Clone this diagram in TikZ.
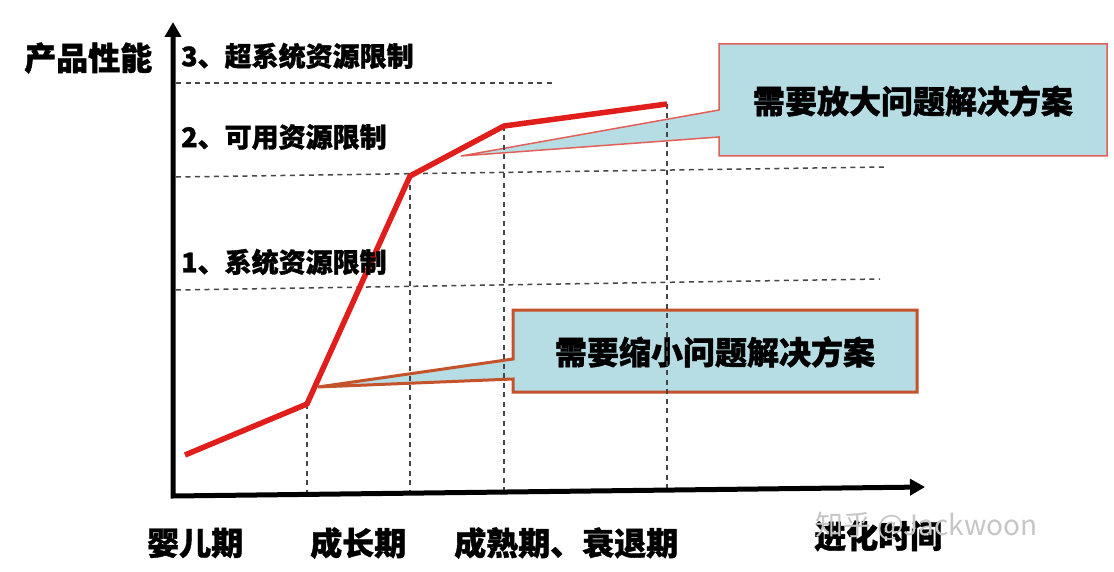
\documentclass[tikz,border=0pt]{standalone}
\usepackage{fontspec}
\newfontfamily\cjk{Noto Sans CJK SC}[BoldFeatures={FakeBold=1.2}]
\newfontfamily\cjkwm{Noto Sans CJK SC}
\usetikzlibrary{arrows.meta}
\definecolor{curvered}{RGB}{224,30,28}
\definecolor{callfill}{RGB}{182,221,227}
\definecolor{callredA}{RGB}{226,96,90}
\definecolor{callredB}{RGB}{196,82,42}
\definecolor{gridgray}{RGB}{70,70,70}
\tikzset{
  lbl/.style={font=\cjk\bfseries\fontsize{27}{30}\selectfont, anchor=west, inner sep=0pt},
  big/.style={font=\cjk\bfseries\fontsize{32}{36}\selectfont, inner sep=0pt},
  axisline/.style={line width=5pt, line join=miter,
    {Triangle[width=16pt,length=15pt]}-{Triangle[width=16pt,length=15pt]}},
  gridline/.style={dash pattern=on 5pt off 4.5pt, line width=1.5pt, draw=gridgray},
  curveline/.style={line width=5.5pt, draw=curvered, line join=round},
  callA/.style={fill=callfill, draw=callredA, line width=1.5pt, line join=miter},
  callB/.style={fill=callfill, draw=callredB, line width=3pt, line join=miter},
  wm/.style={font=\cjkwm\fontsize{28}{30}\selectfont, text=gray!45, inner sep=0pt, anchor=west}
}
\begin{document}
\begin{tikzpicture}[x=1pt,y=-1pt]
\useasboundingbox[fill=white] (0,0) rectangle (1114,572);

% curve points
\coordinate (p0) at (185,455);
\coordinate (p1) at (307,404);
\coordinate (p2) at (410,176);
\coordinate (p3) at (504,126);
\coordinate (p4) at (667,104);

% callout 1
\coordinate (a1) at (719,44);
\coordinate (a2) at (1107,44);
\coordinate (a3) at (1107,156);
\coordinate (a4) at (719,156);
\coordinate (a5) at (719,137);
\coordinate (atip) at (461,156);
\coordinate (a6) at (719,110);
\draw[callA] (a1) -- (a2) -- (a3) -- (a4) -- (a5) -- (atip) -- (a6) -- cycle;
\node[big] (t1) at (913,101) {需要放大问题解决方案};

% callout 2
\coordinate (b1) at (513,310);
\coordinate (b2) at (917,310);
\coordinate (b3) at (917,392);
\coordinate (b4) at (513,392);
\coordinate (b5) at (513,379);
\coordinate (btip) at (318,387);
\coordinate (b6) at (513,359);
\draw[callB] (b1) -- (b2) -- (b3) -- (b4) -- (b5) -- (btip) -- (b6) -- cycle;
\node[big] (t2) at (715,352) {需要缩小问题解决方案};

% horizontal grid lines
\coordinate (h1a) at (176,83);  \coordinate (h1b) at (553,83);
\coordinate (h2a) at (176,177); \coordinate (h2b) at (885,167);
\coordinate (h3a) at (176,290); \coordinate (h3b) at (880,279);
\draw[gridline] (h1a) -- (h1b);
\draw[gridline] (h2a) -- (h2b);
\draw[gridline] (h3a) -- (h3b);

% vertical grid lines
\coordinate (v1) at (307,494);
\coordinate (v2) at (410,493);
\coordinate (v3) at (504,492);
\coordinate (v4) at (667,490);
\draw[gridline] (p1) -- (v1);
\draw[gridline] (p2) -- (v2);
\draw[gridline] (p3) -- (v3);
\draw[gridline] (p4) -- (v4);

% axes
\coordinate (O) at (173,496);
\coordinate (ytip) at (173,22);
\coordinate (xtip) at (925,487);
\draw[axisline] (ytip) -- (O) -- (xtip);

% curve
\draw[curveline] (p0) -- (p1) -- (p2) -- (p3) -- (p4);

% labels
\node[big, anchor=west] (ylab) at (24,58) {产品性能};
\node[lbl] (l3) at (181,56) {3、超系统资源限制};
\node[lbl] (l2) at (181,137) {2、可用资源限制};
\node[lbl] (l1) at (181,262) {1、系统资源限制};

\node[big, anchor=west] (s1) at (147,543) {婴儿期};
\node[big, anchor=west] (s2) at (310,543) {成长期};
\node[big, anchor=west] (s3) at (454,543) {成熟期、衰退期};
\node[big, anchor=west] (xlab) at (814,536) {进化时间};

\node[wm] (wmk) at (815,526) {知乎 @Jackwoon};
\end{tikzpicture}
\end{document}
